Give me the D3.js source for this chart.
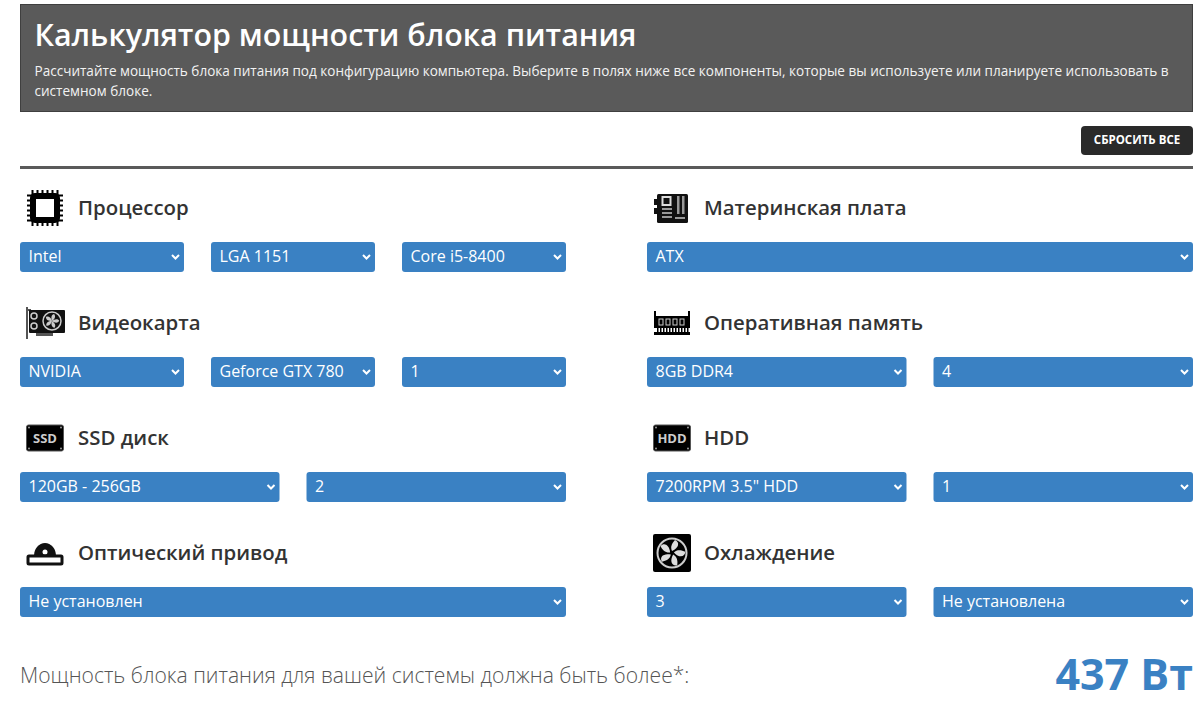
<!DOCTYPE html>
<html lang="ru">
<head>
<meta charset="utf-8">
<title>Калькулятор мощности блока питания</title>
<script src="https://cdn.jsdelivr.net/npm/d3@7"></script>
<style>
  html, body { margin: 0; padding: 0; background: #fff; }
  svg { display: block; font-family: "Open Sans", "Noto Sans", sans-serif; }
</style>
</head>
<body>
<svg id="calc" width="1200" height="711"></svg>
<script>
const pageTitle = 'Калькулятор мощности блока питания';
const introLines = [
    'Рассчитайте мощность блока питания под конфигурацию компьютера. Выберите в полях ниже все компоненты, которые вы используете или планируете использовать в',
    'системном блоке.'
];
const resetLabel = 'СБРОСИТЬ ВСЕ';
const resultLabel = 'Мощность блока питания для вашей системы должна быть более*:';
const resultValue = '437 Вт';

const leftTitles = ['Процессор', 'Видеокарта', 'SSD диск', 'Оптический привод'];
const rightTitles = ['Материнская плата', 'Оперативная память', 'HDD', 'Охлаждение'];
const leftIcons = ['cpu', 'gpu', 'ssd', 'optical'];
const rightIcons = ['board', 'ram', 'hdd', 'fan'];
const leftSelects = [
    ['Intel', 'LGA 1151', 'Core i5-8400'],
    ['NVIDIA', 'Geforce GTX 780', '1'],
    ['120GB - 256GB', '2'],
    ['Не установлен']
];
const rightSelects = [
    ['ATX'],
    ['8GB DDR4', '4'],
    ['7200RPM 3.5" HDD', '1'],
    ['3', 'Не установлена']
];

const BLUE = '#3a81c3';
const svg = d3.select('#calc');
const rowY = d3.scaleLinear().domain([0, 3]).range([242, 587]);
const GAP = 27;

// header block
svg.append('rect').attr('x', 20.5).attr('y', 4.5).attr('width', 1172).attr('height', 107)
    .attr('fill', '#5a5a5a').attr('stroke', '#3f3f3f');
svg.append('text').attr('x', 34.5).attr('y', 46).attr('fill', '#fff')
    .attr('font-size', 30.4).attr('font-weight', 600).text(pageTitle);
svg.selectAll('.intro').data(introLines).enter().append('text')
    .attr('class', 'intro').attr('x', 34.5).attr('y', (d, i) => 76 + i * 20)
    .attr('fill', '#f2f2f2').attr('font-size', 13.56).text(d => d);

// reset button + rule
svg.append('rect').attr('x', 1081).attr('y', 126).attr('width', 112).attr('height', 29).attr('rx', 4).attr('fill', '#2a2a2a');
svg.append('text').attr('x', 1137).attr('y', 144).attr('text-anchor', 'middle').attr('fill', '#fff')
    .attr('font-size', 11.5).attr('font-weight', 700).text(resetLabel);
svg.append('rect').attr('x', 20).attr('y', 166).attr('width', 1173).attr('height', 3).attr('fill', '#5a5a5a');

const icons = {
    cpu(g) {
        d3.range(6).forEach(i => {
            const p = -12.5 + i * 5;
            g.append('rect').attr('x', p - 1).attr('y', -18).attr('width', 2).attr('height', 36).attr('fill', '#000');
            g.append('rect').attr('x', -18).attr('y', p - 1).attr('width', 36).attr('height', 2).attr('fill', '#000');
        });
        g.append('rect').attr('x', -12).attr('y', -12).attr('width', 24).attr('height', 24).attr('rx', 2)
            .attr('fill', '#fff').attr('stroke', '#000').attr('stroke-width', 6);
    },
    gpu(g) {
        g.append('rect').attr('x', -19).attr('y', -16).attr('width', 2).attr('height', 32).attr('fill', '#555');
        g.append('rect').attr('x', -17).attr('y', -14).attr('width', 3).attr('height', 2).attr('fill', '#555');
        g.append('rect').attr('x', -16).attr('y', -13).attr('width', 36).attr('height', 23).attr('rx', 1).attr('fill', '#111');
        g.append('rect').attr('x', -9).attr('y', 10).attr('width', 17).attr('height', 3).attr('fill', '#555');
        [[-11, -7], [-11, 3]].forEach(c => g.append('circle').attr('cx', c[0]).attr('cy', c[1]).attr('r', 3)
            .attr('fill', 'none').attr('stroke', '#ccc').attr('stroke-width', 1.5));
        g.append('circle').attr('cx', 7).attr('cy', -2).attr('r', 9).attr('fill', 'none').attr('stroke', '#ccc').attr('stroke-width', 1.5);
        d3.range(5).forEach(i => g.append('path').attr('d', 'M0,0 C3,-2 4,-5 2,-7 C-1,-6 -1,-3 0,0 Z')
            .attr('fill', '#ccc').attr('transform', `translate(7,-2) rotate(${i * 72})`));
    },
    drive(g, label) {
        g.append('rect').attr('x', -18.5).attr('y', -13).attr('width', 37).attr('height', 26).attr('rx', 2)
            .attr('fill', '#000').attr('stroke', '#555');
        g.append('text').attr('text-anchor', 'middle').attr('y', 5).attr('fill', '#ccc')
            .attr('font-size', 13).attr('font-weight', 700).text(label);
        [[-16, -10.5], [16, -10.5], [-16, 10.5], [16, 10.5]].forEach(c => g.append('circle')
            .attr('cx', c[0]).attr('cy', c[1]).attr('r', 0.9).attr('fill', '#aaa'));
    },
    ssd(g) { icons.drive(g, 'SSD'); },
    hdd(g) { icons.drive(g, 'HDD'); },
    optical(g) {
        g.append('path').attr('d', 'M-11,3 A11,13 0 0 1 11,3 Z').attr('fill', '#111');
        g.append('circle').attr('cy', -1).attr('r', 2.5).attr('fill', '#fff');
        g.append('rect').attr('x', -17).attr('y', 3).attr('width', 34).attr('height', 8).attr('rx', 1)
            .attr('fill', '#fff').attr('stroke', '#111').attr('stroke-width', 3);
    },
    board(g) {
        g.append('rect').attr('x', -15).attr('y', -14).attr('width', 31).attr('height', 29).attr('rx', 1.5).attr('fill', '#111');
        g.append('rect').attr('x', -18).attr('y', -9).attr('width', 4).attr('height', 6).attr('fill', '#111');
        g.append('rect').attr('x', -18).attr('y', 0).attr('width', 4).attr('height', 6).attr('fill', '#111');
        g.append('rect').attr('x', -9.5).attr('y', -11).attr('width', 8).attr('height', 8).attr('fill', 'none').attr('stroke', '#ddd').attr('stroke-width', 2);
        [5, 10].forEach(x => g.append('rect').attr('x', x).attr('y', -12).attr('width', 2.5).attr('height', 18).attr('fill', '#999'));
        [0, 4, 8].forEach(y => g.append('rect').attr('x', -10).attr('y', y).attr('width', 10).attr('height', 2).attr('fill', '#999'));
        g.append('rect').attr('x', 3).attr('y', 9).attr('width', 10).attr('height', 2).attr('fill', '#999');
    },
    ram(g) {
        g.append('rect').attr('x', -18).attr('y', -12).attr('width', 2).attr('height', 6).attr('fill', '#000');
        g.append('rect').attr('x', 16).attr('y', -12).attr('width', 2).attr('height', 6).attr('fill', '#000');
        g.append('rect').attr('x', -18).attr('y', -7).attr('width', 36).attr('height', 12).attr('fill', '#000');
        d3.range(4).forEach(i => g.append('rect').attr('x', -13 + i * 7).attr('y', -4).attr('width', 4).attr('height', 6)
            .attr('fill', 'none').attr('stroke', '#ccc').attr('stroke-width', 1));
        d3.range(11).forEach(i => g.append('rect').attr('x', -15 + i * 3).attr('y', 5).attr('width', 1.5).attr('height', 5).attr('fill', '#000'));
        g.append('rect').attr('x', -18).attr('y', 9).attr('width', 36).attr('height', 3).attr('fill', '#000');
    },
    fan(g) {
        g.append('rect').attr('x', -19).attr('y', -19).attr('width', 38).attr('height', 38).attr('rx', 2).attr('fill', '#000');
        g.append('circle').attr('r', 14.5).attr('fill', 'none').attr('stroke', '#ccc').attr('stroke-width', 2);
        d3.range(5).forEach(i => g.append('path').attr('d', 'M0,-2 C7,-5 8,-11 3,-13 C0,-10 -2,-6 0,-2 Z')
            .attr('fill', '#ddd').attr('transform', `rotate(${i * 72})`));
    }
};

function drawColumn(x0, width, iconX, titleX, titles, iconNames, selects) {
    const col = svg.append('g');
    titles.forEach((title, r) => {
        const top = rowY(r);
        const row = col.append('g');
        icons[iconNames[r]](row.append('g').attr('transform', `translate(${iconX},${top - 34})`));
        row.append('text').attr('x', titleX).attr('y', top - 27).attr('fill', '#333')
            .attr('font-size', 20.4).attr('font-weight', 600).text(title);

        const items = selects[r];
        const w = (width - GAP * (items.length - 1)) / items.length;
        const boxes = row.selectAll('g.sel').data(items).enter().append('g').attr('class', 'sel')
            .attr('transform', (d, i) => `translate(${x0 + i * (w + GAP)},${top})`);
        boxes.append('rect').attr('width', w).attr('height', 30).attr('rx', 3).attr('fill', BLUE);
        boxes.append('text').attr('x', 8.5).attr('y', 20).attr('fill', '#fff').attr('font-size', 16).text(d => d);
        boxes.append('path').attr('d', `M${w - 12},13 l3.5,3.5 l3.5,-3.5`).attr('fill', 'none')
            .attr('stroke', '#fff').attr('stroke-width', 2);
    });
}
drawColumn(20, 546, 45, 78, leftTitles, leftIcons, leftSelects);
drawColumn(647, 546, 672, 704, rightTitles, rightIcons, rightSelects);

// result line
svg.append('text').attr('x', 20).attr('y', 683).attr('fill', '#555').attr('font-size', 21.1).attr('font-weight', 300).text(resultLabel);
svg.append('text').attr('x', 1193).attr('y', 690).attr('text-anchor', 'end').attr('fill', BLUE)
    .attr('font-size', 43).attr('font-weight', 700).text(resultValue);
</script>
</body>
</html>
